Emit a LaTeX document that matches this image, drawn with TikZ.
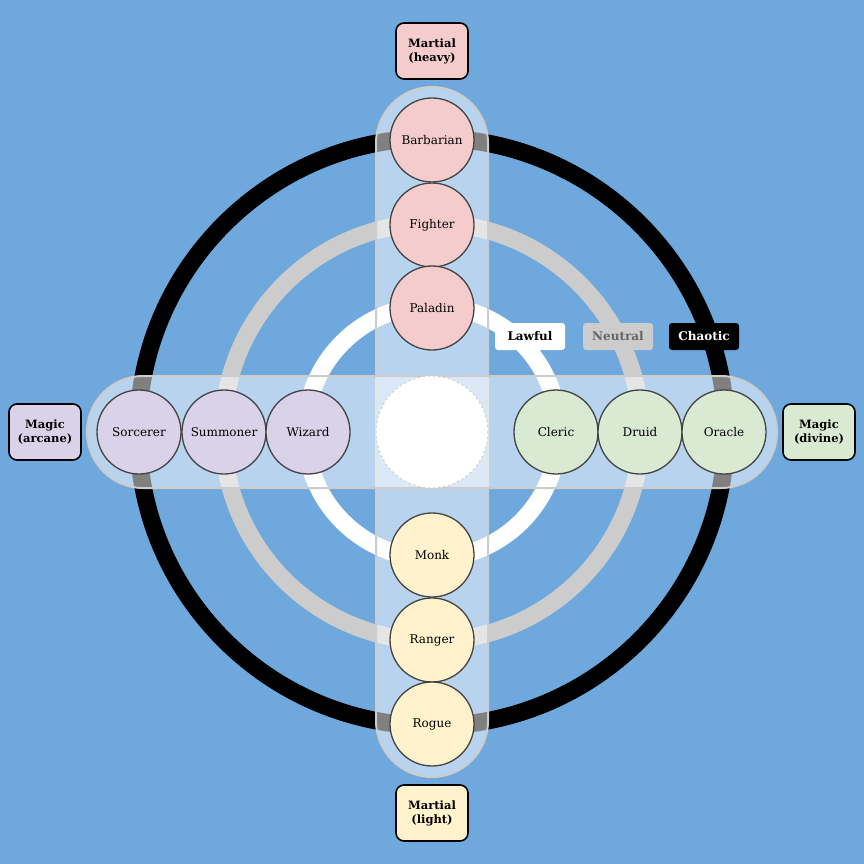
\documentclass[tikz,border=0pt]{standalone}
\usepackage{fontspec}
\setmainfont{DejaVu Serif}
\definecolor{bg}{RGB}{111,168,220}
\definecolor{ringgray}{RGB}{204,204,204}
\definecolor{barline}{RGB}{204,204,204}
\definecolor{pinkf}{RGB}{244,204,204}
\definecolor{greenf}{RGB}{217,234,211}
\definecolor{purplef}{RGB}{217,210,233}
\definecolor{yellowf}{RGB}{255,242,204}
\definecolor{cline}{RGB}{67,67,67}
\definecolor{neutraltext}{RGB}{102,102,102}
\begin{document}
\begin{tikzpicture}[x=1pt,y=-1pt,
  ring/.style={line width=17.5pt},
  bar/.style={fill=white,fill opacity=0.5,draw=barline,draw opacity=1,line width=2pt,rounded corners=56pt},
  cls/.style={circle,draw=cline,line width=1.3pt,minimum size=84pt,inner sep=0pt,font=\fontsize{12}{14}\selectfont},
  corner/.style={draw=black,line width=1.6pt,rounded corners=8pt,minimum width=72pt,minimum height=56pt,inner sep=0pt,align=center,font=\bfseries\fontsize{11.5}{14}\selectfont},
  legend/.style={rounded corners=3pt,minimum width=70pt,minimum height=27pt,inner sep=0pt,font=\bfseries\fontsize{12}{14}\selectfont}]
\fill[bg] (0,0) rectangle (864,864);
\useasboundingbox (0,0) rectangle (864,864);
% rings
\coordinate (c) at (432,432);
\draw[ring,black] (c) circle[radius=294];
\draw[ring,ringgray] (c) circle[radius=209];
\draw[ring,white] (c) circle[radius=126.5];
% bars
\draw[bar] (376,87) rectangle (488,777);
\draw[bar] (87,376) rectangle (777,488);
% center
\node[circle,fill=white,draw=barline,dashed,dash pattern=on 2pt off 3pt,line width=1pt,minimum size=112pt,inner sep=0pt] (center) at (c) {};
% classes
\node[cls,fill=pinkf] (barbarian) at (432,140) {Barbarian};
\node[cls,fill=pinkf] (fighter) at (432,225) {Fighter};
\node[cls,fill=pinkf] (paladin) at (432,308) {Paladin};
\node[cls,fill=yellowf] (monk) at (432,555) {Monk};
\node[cls,fill=yellowf] (ranger) at (432,640) {Ranger};
\node[cls,fill=yellowf] (rogue) at (432,724) {Rogue};
\node[cls,fill=purplef] (sorcerer) at (139,432) {Sorcerer};
\node[cls,fill=purplef] (summoner) at (224,432) {Summoner};
\node[cls,fill=purplef] (wizard) at (308,432) {Wizard};
\node[cls,fill=greenf] (cleric) at (556,432) {Cleric};
\node[cls,fill=greenf] (druid) at (640,432) {Druid};
\node[cls,fill=greenf] (oracle) at (724,432) {Oracle};
% corner labels
\node[corner,fill=pinkf] (heavy) at (432,51) {Martial\\(heavy)};
\node[corner,fill=yellowf] (light) at (432,813) {Martial\\(light)};
\node[corner,fill=purplef] (arcane) at (45,432) {Magic\\(arcane)};
\node[corner,fill=greenf] (divine) at (819,432) {Magic\\(divine)};
% legend
\node[legend,fill=white,text=black] (lawful) at (530,336.5) {Lawful};
\node[legend,fill=ringgray,text=neutraltext] (neutral) at (618,336.5) {Neutral};
\node[legend,fill=black,text=white] (chaotic) at (704,336.5) {Chaotic};
\end{tikzpicture}
\end{document}
